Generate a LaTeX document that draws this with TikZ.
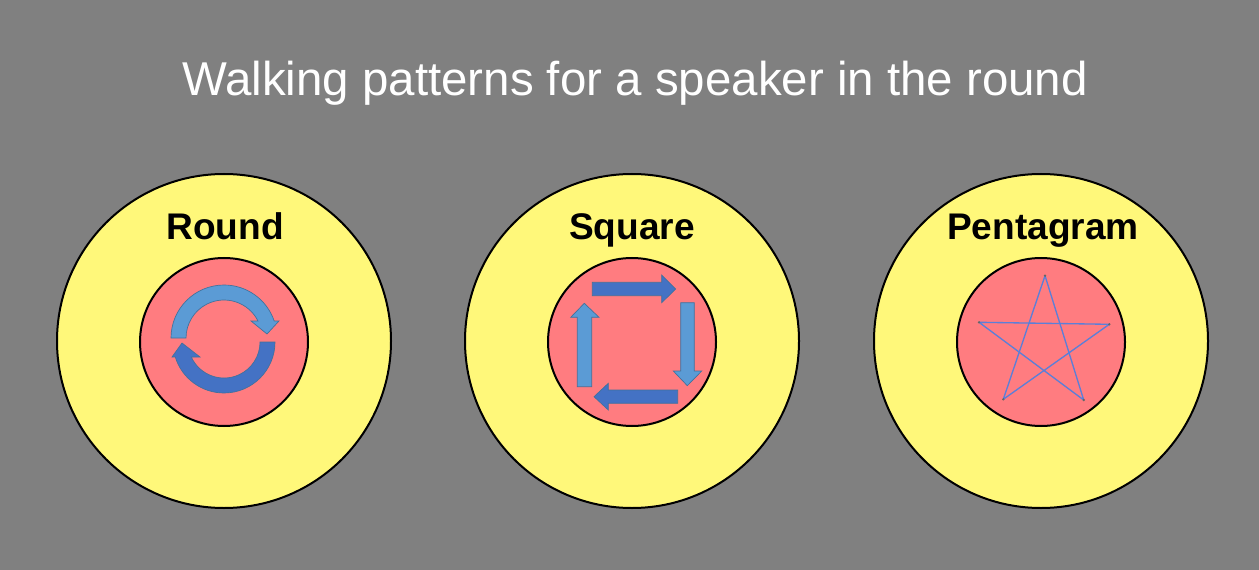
\documentclass[tikz,border=0pt]{standalone}
\usepackage{fontspec}
\setmainfont{Liberation Sans}

\definecolor{slidegray}{HTML}{808080}
\definecolor{ringyellow}{HTML}{FFF87A}
\definecolor{corered}{HTML}{FF7C80}
\definecolor{lightarrow}{HTML}{5B9BD5}
\definecolor{darkarrow}{HTML}{4472C4}
\definecolor{arrowline}{HTML}{41719C}
\definecolor{starline}{HTML}{5B7FD8}

\tikzset{every picture/.style={line width=0.75pt}}
\tikzset{
  ring/.style={draw=black, line width=1.5pt, fill=ringyellow},
  core/.style={draw=black, line width=1.5pt, fill=corered},
  lightblock/.style={draw=arrowline, line width=0.5pt, fill=lightarrow},
  darkblock/.style={draw=arrowline, line width=0.5pt, fill=darkarrow},
  patternlabel/.style={anchor=base, inner sep=0.75pt, font=\fontsize{27.8}{32}\selectfont\bfseries},
}

\begin{document}
\begin{tikzpicture}[x=0.75pt,y=0.75pt,yscale=-1,xscale=1]
%set diagram left start at 0, and has height of 570
\useasboundingbox (0,0) rectangle (1259,570);
\fill[slidegray] (0,0) rectangle (1259,570);

% Text Node
\draw (635,96) node [anchor=base][inner sep=0.75pt][text=white, font=\fontsize{35.6}{40}\selectfont] (title) {Walking patterns for a speaker in the round};

%Shape: Circle
\draw [ring] (224,341) circle [radius=167];
%Shape: Circle
\draw [ring] (632,341) circle [radius=167];
%Shape: Circle
\draw [ring] (1041,341) circle [radius=167];

%Shape: Circle
\draw [core] (224,342) circle [radius=84];
%Shape: Circle
\draw [core] (632,342) circle [radius=84];
%Shape: Circle
\draw [core] (1041,342) circle [radius=84];

% Text Node
\draw (225,239) node [patternlabel] (roundlbl) {Round};
% Text Node
\draw (632,239) node [patternlabel] (squarelbl) {Square};
% Text Node
\draw (1043,239) node [patternlabel] (pentalbl) {Pentagram};

%Shape: Circular Arrow
\draw [lightblock] (171,338) arc [start angle=180, end angle=341.3, radius=53] -- (279,321) -- (267,334) -- (251,321) -- (258,321) arc [start angle=333.4, end angle=180, radius=38] -- cycle ;
%Shape: Circular Arrow
\draw [darkblock] (275,342) arc [start angle=0, end angle=162.9, radius=51] -- (172,357) -- (182,343) -- (200,357) -- (191.3,357) arc [start angle=155.4, end angle=0, radius=36] -- cycle ;

%Shape: Right Arrow
\draw [darkblock] (592.3,282.3) -- (661.7,282.3) -- (661.7,275) -- (675.7,289) -- (661.7,302.7) -- (661.7,295.7) -- (592.3,295.7) -- cycle ;
%Shape: Down Arrow
\draw [lightblock] (680.7,302.7) -- (694.3,302.7) -- (694.3,371) -- (701.7,371) -- (687.3,385.7) -- (673.3,371) -- (680.7,371) -- cycle ;
%Shape: Left Arrow
\draw [darkblock] (677.7,390) -- (608.3,390) -- (608.3,383.3) -- (594,396.7) -- (608.3,410) -- (608.3,403.3) -- (677.7,403.3) -- cycle ;
%Shape: Up Arrow
\draw [lightblock] (577.3,386.7) -- (577.3,317.3) -- (570.7,317.3) -- (584.3,303.3) -- (599,317.3) -- (591.7,317.3) -- (591.7,386.7) -- cycle ;

%Shape: Star
\coordinate (ptop) at (1045,275.7);
\coordinate (pleft) at (979,322.3);
\coordinate (pright) at (1109.3,324.3);
\coordinate (pbl) at (1003.3,399.3);
\coordinate (pbr) at (1083.7,400);
\draw [starline, line width=1pt, line join=round] (ptop) -- (pbl) -- (pright) -- (pleft) -- (pbr) -- cycle ;
\foreach \p in {ptop,pleft,pright,pbl,pbr}
  \fill [black!60] (\p) circle [radius=1.3];

\end{tikzpicture}
\end{document}
